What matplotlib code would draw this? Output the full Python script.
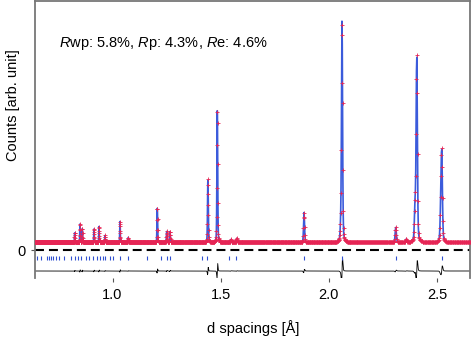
import numpy as np
import matplotlib
matplotlib.use("Agg")
import matplotlib.pyplot as plt

plt.rcParams['font.family'] = ['Liberation Sans', 'DejaVu Sans']
plt.rcParams['mathtext.fontset'] = 'custom'
plt.rcParams['mathtext.it'] = 'Liberation Sans:italic'
plt.rcParams['mathtext.rm'] = 'Liberation Sans'

# peak list: d (A), height above background (arb.)
peak_d = [0.8252, 0.8497, 0.8604, 0.9145, 0.9376, 0.9653, 1.0347, 1.0730,
          1.2071, 1.2506, 1.2658, 1.4410, 1.4845, 1.5465, 1.5742, 1.8854,
          2.0550, 2.0610, 2.3093, 2.3570, 2.3985, 2.4064, 2.5173, 2.5220]
peak_h = [10, 19, 14, 14, 16, 7, 21, 5,
          35, 11, 11, 64, 132, 3, 4, 30,
          12, 222, 15, 3, 33, 186, 25, 87]
background = 7.5

# Bragg reflection positions (tick row)
bragg_d = [0.6523, 0.6694, 0.6958, 0.7064, 0.7171, 0.7263, 0.7374, 0.7536,
           0.7765, 0.8068, 0.8252, 0.8405, 0.8530, 0.8761, 0.8914, 0.9112,
           0.9297, 0.9408, 0.9575, 0.9639, 0.9884, 1.0023, 1.0333, 1.0730,
           1.1581, 1.2228, 1.2506, 1.2658, 1.4124, 1.4383, 1.5400, 1.5696,
           1.8853, 2.0610, 2.3093, 2.5220]

xticks = [1.0, 1.5, 2.0, 2.5]
d_min, d_max = 0.6417, 2.6526


def profile(d, shift=0.0):
    y = np.full_like(d, background)
    for p, h in zip(peak_d, peak_h):
        w = 0.0028 * p
        c = p + shift * p
        g = np.exp(-4 * np.log(2) * ((d - c) / w) ** 2)
        l = 1.0 / (1 + 4 * ((d - c) / w) ** 2)
        y += h * (0.7 * g + 0.3 * l)
    return y


d = np.geomspace(d_min, d_max, 2030)
calc = profile(d)
obs = profile(d, shift=0.00012)
diff = obs - calc - 21

fig = plt.figure(figsize=(4.74, 3.46), dpi=100)
ax = fig.add_axes([35 / 474, 1 - 278 / 346, 435 / 474, 277 / 346])

ax.plot(d, calc, color='#3b5bdb', lw=1.2, zorder=2)
ax.plot(d, obs, '+', color='#e62555', ms=2.2, mew=0.6, zorder=3)
ax.plot(d, diff, color='black', lw=0.6, zorder=2)
ax.axhline(0, color='black', lw=1.5, dashes=(4.3, 2.4), zorder=1)
ax.plot(bragg_d, np.full(len(bragg_d), -8), '|', color='#3050d0', ms=3.5, mew=0.8)

ax.set_xlim(d_min, d_max)
ax.set_ylim(-28, 249)
ax.set_xticks(xticks)
ax.set_xticklabels([f"{t:.1f}" for t in xticks])
ax.set_yticks([0])
ax.tick_params(axis='both', direction='out', length=3, width=0.8, color='#555555',
               labelsize=10.5, pad=4)

for s in ['top', 'left', 'right']:
    ax.spines[s].set_color('#777777')
    ax.spines[s].set_linewidth(1.3)
ax.spines['bottom'].set_visible(False)

ax.set_xlabel("d spacings [Å]", fontsize=10.5)
ax.xaxis.set_label_coords(0.501, -0.152)
ax.set_ylabel("Counts [arb. unit]", fontsize=10.5)
ax.yaxis.set_label_coords(-0.034, 0.6245)

ax.text(0.055, 0.848, r"$\it{R}$wp: 5.8%, $\it{R}$p: 4.3%, $\it{R}$e: 4.6%",
        transform=ax.transAxes, fontsize=10.5, va='center', ha='left')

fig.savefig("out.png", dpi=100)
